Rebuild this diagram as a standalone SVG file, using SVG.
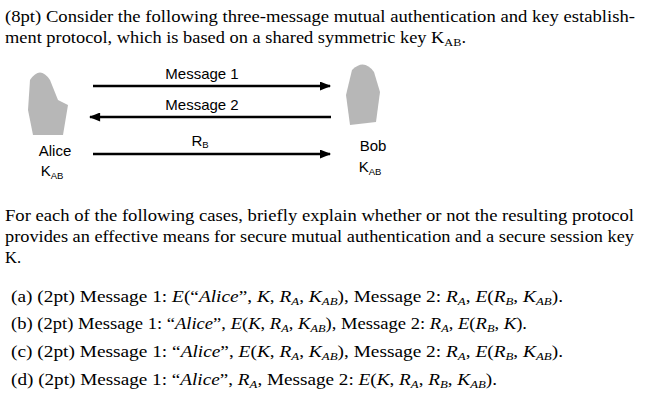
<svg xmlns="http://www.w3.org/2000/svg" width="655" height="402" viewBox="0 0 655 402">
<style>
.s{font-family:"Liberation Serif",serif;font-size:16.5px;fill:#000}
.i{font-style:italic}
.h{font-family:"Liberation Sans",Arial,sans-serif;font-size:15px;fill:#000}
.a{stroke:#000;stroke-width:2.5;fill:none}
</style>
<defs>
<marker id="mw" viewBox="0 0 10 8" markerWidth="12" markerHeight="9" refX="9" refY="4" orient="auto" markerUnits="userSpaceOnUse"><path d="M0,0L10,4L0,8z" fill="#000"/></marker></defs>
<rect width="655" height="402" fill="#fff"/>
<text class="s" x="5" y="22" textLength="630" lengthAdjust="spacingAndGlyphs">(8pt) Consider the following three-message mutual authentication and key establish-</text>
<text class="s" x="5" y="43" textLength="461" lengthAdjust="spacingAndGlyphs">ment protocol, which is based on a shared symmetric key K<tspan font-size="11" dy="3">AB</tspan><tspan dy="-3">.</tspan></text>
<g id="alice">
<path d="M30,80 q10,-15 20,0 l8,20 l10,5 l-5,30 l-30,0 l-5,-25z" fill="#999" opacity="0.7"/>
<text class="h" x="55" y="156" text-anchor="middle">Alice</text>
<text class="h" x="52" y="176" text-anchor="middle">K<tspan font-size="9.5" dy="3">AB</tspan></text>
</g>
<g id="bob">
<path d="M352,70 q12,-12 22,2 l6,20 l-4,30 l-26,3 l-4,-30z" fill="#999" opacity="0.7"/>
<text class="h" x="373" y="151" text-anchor="middle">Bob</text>
<text class="h" x="370" y="172" text-anchor="middle">K<tspan font-size="9.5" dy="3">AB</tspan></text>
</g>
<g id="connectors">
<line class="a" x1="93" y1="86" x2="330" y2="86" marker-end="url(#mw)"/>
<line class="a" x1="331" y1="117" x2="90" y2="117" marker-end="url(#mw)"/>
<line class="a" x1="93" y1="154" x2="330" y2="154" marker-end="url(#mw)"/>
<text class="h" x="202" y="79" text-anchor="middle">Message 1</text>
<text class="h" x="202" y="110" text-anchor="middle">Message 2</text>
<text class="h" x="200" y="146" text-anchor="middle">R<tspan font-size="9.5" dy="2">B</tspan></text>
</g>
<text class="s" x="5" y="221" textLength="629" lengthAdjust="spacingAndGlyphs">For each of the following cases, briefly explain whether or not the resulting protocol</text>
<text class="s" x="5" y="242" textLength="629" lengthAdjust="spacingAndGlyphs">provides an effective means for secure mutual authentication and a secure session key</text>
<text class="s" x="5" y="263">K.</text>
<text class="s" x="11" y="302" textLength="552" lengthAdjust="spacingAndGlyphs">(a)  (2pt) Message 1:  <tspan class="i">E</tspan>(“<tspan class="i">Alice</tspan>”, <tspan class="i">K</tspan>, <tspan class="i">R</tspan><tspan font-size="11" class="i" dy="3">A</tspan><tspan dy="-3">, </tspan><tspan class="i">K</tspan><tspan font-size="11" class="i" dy="3">AB</tspan><tspan dy="-3">), Message 2:  </tspan><tspan class="i">R</tspan><tspan font-size="11" class="i" dy="3">A</tspan><tspan dy="-3">,  </tspan><tspan class="i">E</tspan>(<tspan class="i">R</tspan><tspan font-size="11" class="i" dy="3">B</tspan><tspan dy="-3">, </tspan><tspan class="i">K</tspan><tspan font-size="11" class="i" dy="3">AB</tspan><tspan dy="-3">).</tspan></text>
<text class="s" x="11" y="329" textLength="516" lengthAdjust="spacingAndGlyphs">(b)  (2pt) Message 1:  “<tspan class="i">Alice</tspan>”, <tspan class="i">E</tspan>(<tspan class="i">K</tspan>, <tspan class="i">R</tspan><tspan font-size="11" class="i" dy="3">A</tspan><tspan dy="-3">, </tspan><tspan class="i">K</tspan><tspan font-size="11" class="i" dy="3">AB</tspan><tspan dy="-3">), Message 2:  </tspan><tspan class="i">R</tspan><tspan font-size="11" class="i" dy="3">A</tspan><tspan dy="-3">,  </tspan><tspan class="i">E</tspan>(<tspan class="i">R</tspan><tspan font-size="11" class="i" dy="3">B</tspan><tspan dy="-3">, </tspan><tspan class="i">K</tspan>).</text>
<text class="s" x="11" y="357" textLength="552" lengthAdjust="spacingAndGlyphs">(c)  (2pt) Message 1:  “<tspan class="i">Alice</tspan>”, <tspan class="i">E</tspan>(<tspan class="i">K</tspan>, <tspan class="i">R</tspan><tspan font-size="11" class="i" dy="3">A</tspan><tspan dy="-3">, </tspan><tspan class="i">K</tspan><tspan font-size="11" class="i" dy="3">AB</tspan><tspan dy="-3">), Message 2:  </tspan><tspan class="i">R</tspan><tspan font-size="11" class="i" dy="3">A</tspan><tspan dy="-3">,  </tspan><tspan class="i">E</tspan>(<tspan class="i">R</tspan><tspan font-size="11" class="i" dy="3">B</tspan><tspan dy="-3">, </tspan><tspan class="i">K</tspan><tspan font-size="11" class="i" dy="3">AB</tspan><tspan dy="-3">).</tspan></text>
<text class="s" x="11" y="385" textLength="486" lengthAdjust="spacingAndGlyphs">(d)  (2pt) Message 1:  “<tspan class="i">Alice</tspan>”, <tspan class="i">R</tspan><tspan font-size="11" class="i" dy="3">A</tspan><tspan dy="-3">, Message 2:  </tspan><tspan class="i">E</tspan>(<tspan class="i">K</tspan>, <tspan class="i">R</tspan><tspan font-size="11" class="i" dy="3">A</tspan><tspan dy="-3">, </tspan><tspan class="i">R</tspan><tspan font-size="11" class="i" dy="3">B</tspan><tspan dy="-3">, </tspan><tspan class="i">K</tspan><tspan font-size="11" class="i" dy="3">AB</tspan><tspan dy="-3">).</tspan></text>
</svg>
